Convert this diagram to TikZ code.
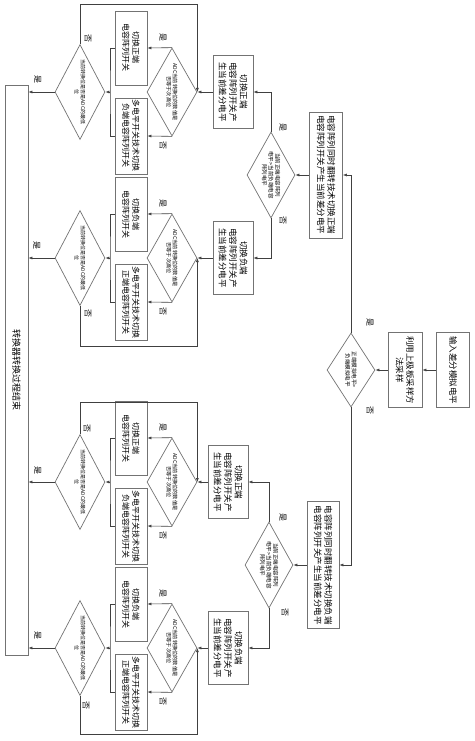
\documentclass[tikz,border=0pt]{standalone}
\usepackage{fontspec}
\newfontfamily\cjk{Noto Sans CJK SC}
\usepackage{tikz}
\usetikzlibrary{arrows.meta, shapes.geometric, positioning}

\begin{document}
\begin{tikzpicture}[x=1pt, y=-1pt, >={Latex[length=4pt,width=3pt]}, line/.style={draw=black!75, line width=0.6pt}, border/.style={draw=black!55, line width=0.7pt}]
    % Define styles for blocks, decisions and labels
    \tikzstyle{block} = [rectangle, border, fill=white, rotate=-90, align=center, inner sep=2pt, font=\cjk\fontsize{8.5}{10.5}\selectfont]
    \tikzstyle{sblock} = [block, minimum width=74pt, minimum height=32pt, font=\cjk\fontsize{8}{10}\selectfont]
    \tikzstyle{tblock} = [block, minimum width=73pt, minimum height=40pt]
    \tikzstyle{decision} = [diamond, border, fill=white, rotate=-90, align=center, inner sep=0.5pt, font=\cjk\fontsize{5.5}{6.6}\selectfont]
    \tikzstyle{adc} = [decision, minimum width=88pt, minimum height=50pt, aspect=1.76, font=\cjk\fontsize{5.2}{6.4}\selectfont]
    \tikzstyle{lowbit} = [decision, minimum width=95pt, minimum height=50pt, aspect=1.9, font=\cjk\fontsize{5}{6.2}\selectfont]
    \tikzstyle{lbl} = [rotate=-90, inner sep=0pt, font=\cjk\fontsize{8}{9}\selectfont]

    \useasboundingbox (0,0) rectangle (474,741);

    % Nodes placement
    \node [block, minimum width=75pt, minimum height=33pt] (inp) at (453,370) {输入差分模拟电平};
    \node [block, minimum width=75pt, minimum height=34pt] (samp) at (405,370) {利用上极板采样方\\法采样};
    \node [decision, minimum width=74pt, minimum height=48pt, aspect=1.54] (maind) at (351,370) {正端模拟电平>\\负端模拟电平};

    \node [block, minimum width=126pt, minimum height=33pt] (ub) at (326,175) {电容阵列同时翻转技术切换正端\\电容阵列开关产生当前差分电平};
    \node [decision, minimum width=86pt, minimum height=48pt, aspect=1.79] (ud) at (271,175) {当前正端电容阵列\\电平>当前负端电容\\阵列电平};
    \node [tblock] (up1) at (233,92) {切换正端\\电容阵列开关产\\生当前差分电平};
    \node [tblock] (un1) at (233,258) {切换负端\\电容阵列开关产\\生当前差分电平};

    \node [block, minimum width=127pt, minimum height=32pt] (lb) at (323,565) {电容阵列同时翻转技术切换负端\\电容阵列开关产生当前差分电平};
    \node [decision, minimum width=86pt, minimum height=48pt, aspect=1.79] (ld) at (269,565) {当前正端电容阵列\\电平>当前负端电容\\阵列电平};
    \node [tblock] (lp1) at (228,482) {切换正端\\电容阵列开关产\\生当前差分电平};
    \node [tblock] (ln1) at (228,648) {切换负端\\电容阵列开关产\\生当前差分电平};

    \node [adc] (adca) at (172,92) {ADC当前转换位的数值是\\否等于次高位};
    \node [adc] (adcb) at (172,258) {ADC当前转换位的数值是\\否等于次高位};
    \node [adc] (adcc) at (172,482) {ADC当前转换位的数值是\\否等于次高位};
    \node [adc] (adcd) at (172,648) {ADC当前转换位的数值是\\否等于次高位};

    \node [sblock] (pa) at (131,48) {切换正端\\电容阵列开关};
    \node [sblock] (na) at (131,136) {多电平开关技术切换\\负端电容阵列开关};
    \node [sblock] (nb) at (131,214) {切换负端\\电容阵列开关};
    \node [sblock] (pb) at (131,302) {多电平开关技术切换\\正端电容阵列开关};
    \node [sblock] (pc) at (131,438) {切换正端\\电容阵列开关};
    \node [sblock] (nc) at (131,526) {多电平开关技术切换\\负端电容阵列开关};
    \node [sblock] (nd) at (131,604) {切换负端\\电容阵列开关};
    \node [sblock] (pd) at (131,692) {多电平开关技术切换\\正端电容阵列开关};

    \node [lowbit] (lowa) at (80,92) {当前转换位是否是ADC的最低\\位};
    \node [lowbit] (lowb) at (80,258) {当前转换位是否是ADC的最低\\位};
    \node [lowbit] (lowc) at (80,482) {当前转换位是否是ADC的最低\\位};
    \node [lowbit] (lowd) at (80,648) {当前转换位是否是ADC的最低\\位};

    \node [block, minimum width=570pt, minimum height=23pt, font=\cjk\fontsize{9}{11}\selectfont] (endb) at (16.5,370) {转换器转换过程结束};

    \coordinate (ma) at (110,92);
    \coordinate (mb) at (110,258);
    \coordinate (mc) at (110,482);
    \coordinate (md) at (110,648);

    % Draw edges
    \draw[line,->] (inp) -- (samp);
    \draw[line,->] (samp) -- (maind);
    \draw[line,->] (maind.west) |- (ub.north);
    \draw[line,->] (maind.east) |- (lb.north);
    \draw[line,->] (ub) -- (ud);
    \draw[line,->] (lb) -- (ld);
    \draw[line,->] (ud.west) |- (up1.north);
    \draw[line,->] (ud.east) |- (un1.north);
    \draw[line,->] (ld.west) |- (lp1.north);
    \draw[line,->] (ld.east) |- (ln1.north);

    \draw[line,->] (up1) -- (adca);
    \draw[line,->] (un1) -- (adcb);
    \draw[line,->] (lp1) -- (adcc);
    \draw[line,->] (ln1) -- (adcd);

    \draw[line,->] (adca.west) -- (pa.north);
    \draw[line,->] (adca.east) -- (na.north);
    \draw[line,->] (adcb.west) -- (nb.north);
    \draw[line,->] (adcb.east) -- (pb.north);
    \draw[line,->] (adcc.west) -- (pc.north);
    \draw[line,->] (adcc.east) -- (nc.north);
    \draw[line,->] (adcd.west) -- (nd.north);
    \draw[line,->] (adcd.east) -- (pd.north);

    % Merge both switch boxes into the lowest bit check
    \draw[line] (pa.south) -| (ma) |- (na.south);
    \draw[line] (nb.south) -| (mb) |- (pb.south);
    \draw[line] (pc.south) -| (mc) |- (nc.south);
    \draw[line] (nd.south) -| (md) |- (pd.south);
    \draw[line,->] (ma) -- (lowa.north);
    \draw[line,->] (mb) -- (lowb.north);
    \draw[line,->] (mc) -- (lowc.north);
    \draw[line,->] (md) -- (lowd.north);

    % Finished or back to the next bit
    \draw[line,->] (lowa.south) -- (lowa.south -| endb.north);
    \draw[line,->] (lowb.south) -- (lowb.south -| endb.north);
    \draw[line,->] (lowc.south) -- (lowc.south -| endb.north);
    \draw[line,->] (lowd.south) -- (lowd.south -| endb.north);
    \draw[line,->] (lowa.west) -- ++(0,-40) -| (adca.north);
    \draw[line,->] (lowb.east) -- ++(0,40) -| (adcb.north);
    \draw[line,->] (lowc.west) -- ++(0,-32) -| (adcc.north);
    \draw[line,->] (lowd.east) -- ++(0,38) -| (adcd.north);

    % Labeling the branches
    \path (maind.west) ++(19,-10) node[lbl] {是};
    \path (maind.east) ++(19,3) node[lbl] {否};
    \path (ud.west) ++(12,-4) node[lbl] {是};
    \path (ud.east) ++(12,2) node[lbl] {否};
    \path (ld.west) ++(14,-4) node[lbl] {是};
    \path (ld.east) ++(16,4) node[lbl] {否};
    \path (adca.west) ++(-9,-10) node[lbl] {是};
    \path (adca.east) ++(-9,9) node[lbl] {否};
    \path (adcb.west) ++(-9,-10) node[lbl] {是};
    \path (adcb.east) ++(-9,9) node[lbl] {否};
    \path (adcc.west) ++(-9,-10) node[lbl] {是};
    \path (adcc.east) ++(-9,9) node[lbl] {否};
    \path (adcd.west) ++(-9,-10) node[lbl] {是};
    \path (adcd.east) ++(-9,9) node[lbl] {否};
    \path (lowa.south) ++(-17,-12) node[lbl] {是};
    \path (lowb.south) ++(-18,-13) node[lbl] {是};
    \path (lowc.south) ++(-17,-12) node[lbl] {是};
    \path (lowd.south) ++(-17,-13) node[lbl] {是};
    \path (lowa.west) ++(8,-6) node[lbl] {否};
    \path (lowb.east) ++(8,8) node[lbl] {否};
    \path (lowc.west) ++(7,-6) node[lbl] {否};
    \path (lowd.east) ++(6,10) node[lbl] {否};
\end{tikzpicture}
\end{document}
